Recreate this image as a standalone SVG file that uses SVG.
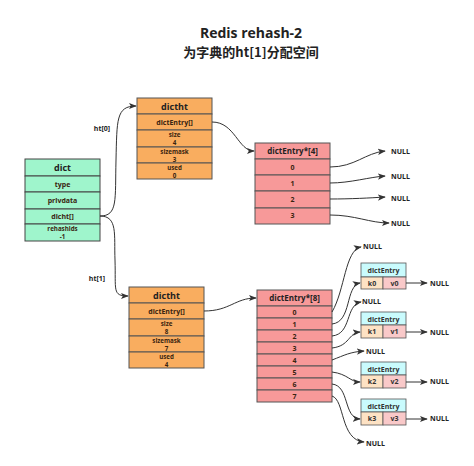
<svg xmlns="http://www.w3.org/2000/svg" width="474" height="466" viewBox="0 0 474 466">
<defs>
<marker id="ar" viewBox="0 0 10 10" refX="9" refY="5" markerWidth="8" markerHeight="8" markerUnits="userSpaceOnUse" orient="auto"><path d="M0,1 L10,5 L0,9 L2.5,5 Z" fill="#333"/></marker>
<style>
text{font-family:"Open Sans","DejaVu Sans",sans-serif;text-anchor:middle;font-weight:bold}
.t{font-size:14px;fill:#222}
.g{fill:#9ff5cc;stroke:#444;stroke-width:1}
.o{fill:#f9ad5f;stroke:#555;stroke-width:1}
.p{fill:#f79999;stroke:#555;stroke-width:1}
.c{fill:#c9fbfd;stroke:#555;stroke-width:0.8}
.k{fill:#fde2c4;stroke:#555;stroke-width:0.8}
.v{fill:#f9c9c9;stroke:#555;stroke-width:0.8}
.h{font-size:9px;fill:#222}
.s{font-size:7px;fill:#3a2410}
.s2{font-size:6.2px;fill:#3a2410}
.n{font-size:7px;fill:#222;text-anchor:start}
.l{font-size:7px;fill:#222}
.e{font-size:7px;fill:#333}
.cn{fill:none;stroke:#333;stroke-width:1;marker-end:url(#ar)}
</style>
</defs>
<rect width="474" height="466" fill="#fff"/>
<text class="t" x="251" y="38">Redis rehash-2</text>
<text class="t" x="251" y="57" style="font-family:'Noto Sans CJK SC','Open Sans',sans-serif;font-size:13px">为字典的ht[1]分配空间</text>

<g id="dict">
<rect class="g" x="25" y="159" width="75" height="17"/>
<rect class="g" x="25" y="176" width="75" height="16"/>
<rect class="g" x="25" y="192" width="75" height="17"/>
<rect class="g" x="25" y="209" width="75" height="15"/>
<rect class="g" x="25" y="224" width="75" height="17"/>
<text class="h" x="62.5" y="171">dict</text>
<text class="s" x="62.5" y="187">type</text>
<text class="s" x="62.5" y="203">privdata</text>
<text class="s" x="62.5" y="219">dicht[]</text>
<text class="s2" x="62.5" y="231">rehashids</text>
<text class="s2" x="62.5" y="239.3">-1</text>
</g>

<g id="dictht0">
<rect class="o" x="137" y="98" width="75" height="16"/>
<rect class="o" x="137" y="114" width="75" height="16"/>
<rect class="o" x="137" y="130" width="75" height="17"/>
<rect class="o" x="137" y="147" width="75" height="16"/>
<rect class="o" x="137" y="163" width="75" height="16"/>
<text class="h" x="174.5" y="110">dictht</text>
<text class="s" x="174.5" y="125">dictEntry[]</text>
<text class="s2" x="174.5" y="137">size</text>
<text class="s2" x="174.5" y="145.3">4</text>
<text class="s2" x="174.5" y="153.8">sizemask</text>
<text class="s2" x="174.5" y="162">3</text>
<text class="s2" x="174.5" y="169.8">used</text>
<text class="s2" x="174.5" y="178">0</text>
</g>

<g id="dictht1">
<rect class="o" x="129" y="287" width="75" height="16"/>
<rect class="o" x="129" y="303" width="75" height="16"/>
<rect class="o" x="129" y="319" width="75" height="17"/>
<rect class="o" x="129" y="336" width="75" height="16"/>
<rect class="o" x="129" y="352" width="75" height="16"/>
<text class="h" x="166.5" y="299">dictht</text>
<text class="s" x="166.5" y="314">dictEntry[]</text>
<text class="s2" x="166.5" y="326">size</text>
<text class="s2" x="166.5" y="334.3">8</text>
<text class="s2" x="166.5" y="342.8">sizemask</text>
<text class="s2" x="166.5" y="351">7</text>
<text class="s2" x="166.5" y="358.8">used</text>
<text class="s2" x="166.5" y="367">4</text>
</g>

<g id="table4">
<rect class="p" x="255" y="143" width="75" height="16"/>
<rect class="p" x="255" y="159" width="75" height="16"/>
<rect class="p" x="255" y="175" width="75" height="16"/>
<rect class="p" x="255" y="191" width="75" height="17"/>
<rect class="p" x="255" y="208" width="75" height="16"/>
<text class="h" x="292.5" y="154" style="font-size:8px">dictEntry*[4]</text>
<text class="s" x="292.5" y="170">0</text>
<text class="s" x="292.5" y="186">1</text>
<text class="s" x="292.5" y="202">2</text>
<text class="s" x="292.5" y="218">3</text>
</g>

<g id="table8">
<rect class="p" x="257" y="290" width="75" height="16"/>
<rect class="p" x="257" y="306" width="75" height="12"/>
<rect class="p" x="257" y="318" width="75" height="12"/>
<rect class="p" x="257" y="330" width="75" height="12"/>
<rect class="p" x="257" y="342" width="75" height="12"/>
<rect class="p" x="257" y="354" width="75" height="12"/>
<rect class="p" x="257" y="366" width="75" height="12"/>
<rect class="p" x="257" y="378" width="75" height="12"/>
<rect class="p" x="257" y="390" width="75" height="12"/>
<text class="h" x="294.5" y="301" style="font-size:8px">dictEntry*[8]</text>
<text class="s" x="294.5" y="314.5">0</text>
<text class="s" x="294.5" y="326.5">1</text>
<text class="s" x="294.5" y="338.5">2</text>
<text class="s" x="294.5" y="350.5">3</text>
<text class="s" x="294.5" y="362.5">4</text>
<text class="s" x="294.5" y="374.5">5</text>
<text class="s" x="294.5" y="386.5">6</text>
<text class="s" x="294.5" y="398.5">7</text>
</g>

<g id="entry0">
<rect class="c" x="361" y="263" width="45" height="14"/>
<rect class="k" x="361" y="277" width="22" height="12"/>
<rect class="v" x="383" y="277" width="23" height="12"/>
<text class="e" x="383.5" y="273">dictEntry</text>
<text class="e" x="372" y="286">k0</text>
<text class="e" x="394.5" y="286">v0</text>
</g>
<g id="entry1">
<rect class="c" x="361" y="312" width="45" height="13"/>
<rect class="k" x="361" y="325" width="22" height="13"/>
<rect class="v" x="383" y="325" width="23" height="13"/>
<text class="e" x="383.5" y="321.5">dictEntry</text>
<text class="e" x="372" y="334">k1</text>
<text class="e" x="394.5" y="334">v1</text>
</g>
<g id="entry2">
<rect class="c" x="361" y="362" width="45" height="13"/>
<rect class="k" x="361" y="375" width="22" height="13"/>
<rect class="v" x="383" y="375" width="23" height="13"/>
<text class="e" x="383.5" y="371.5">dictEntry</text>
<text class="e" x="372" y="384">k2</text>
<text class="e" x="394.5" y="384">v2</text>
</g>
<g id="entry3">
<rect class="c" x="361" y="399" width="45" height="13"/>
<rect class="k" x="361" y="412" width="22" height="13"/>
<rect class="v" x="383" y="412" width="23" height="13"/>
<text class="e" x="383.5" y="408.5">dictEntry</text>
<text class="e" x="372" y="421">k3</text>
<text class="e" x="394.5" y="421">v3</text>
</g>

<g id="labels">
<text class="l" x="102" y="131">ht[0]</text>
<text class="l" x="97" y="281">ht[1]</text>
<text class="n" x="391" y="154">NULL</text>
<text class="n" x="391" y="179">NULL</text>
<text class="n" x="391" y="201">NULL</text>
<text class="n" x="391" y="226">NULL</text>
<text class="n" x="363" y="249">NULL</text>
<text class="n" x="430" y="286">NULL</text>
<text class="n" x="362" y="304">NULL</text>
<text class="n" x="430" y="335">NULL</text>
<text class="n" x="366" y="354">NULL</text>
<text class="n" x="430" y="384">NULL</text>
<text class="n" x="430" y="421">NULL</text>
<text class="n" x="366" y="446">NULL</text>
</g>

<g id="connectors">
<path class="cn" d="M100,216 C118,216 115,200 116,160 C117,120 116,106 136,106"/>
<path class="cn" d="M100,216 C118,216 114,235 115,260 C116,290 112,296 128,296"/>
<path class="cn" d="M212,122 C235,122 238,151 254,151"/>
<path class="cn" d="M204,311 C230,311 235,298 256,298"/>
<path class="cn" d="M330,167 C355,167 365,153 385,151"/>
<path class="cn" d="M330,183 C350,183 370,177 385,176"/>
<path class="cn" d="M330,199 C350,199 370,198 385,197"/>
<path class="cn" d="M330,215 C355,215 370,223 389,223"/>
<path class="cn" d="M332,312 C345,290 345,250 361,247"/>
<path class="cn" d="M332,324 C352,322 345,286 360,283"/>
<path class="cn" d="M332,336 C352,334 345,305 361,302"/>
<path class="cn" d="M332,348 C350,346 348,333 360,332"/>
<path class="cn" d="M332,360 C345,355 350,352 364,351"/>
<path class="cn" d="M332,372 C348,374 350,382 360,382"/>
<path class="cn" d="M332,384 C350,386 343,418 360,419"/>
<path class="cn" d="M332,396 C345,400 340,440 364,442"/>
<path class="cn" d="M406,283 L427,283"/>
<path class="cn" d="M406,332 L427,332"/>
<path class="cn" d="M406,382 L427,382"/>
<path class="cn" d="M406,419 L427,419"/>
</g>
</svg>
